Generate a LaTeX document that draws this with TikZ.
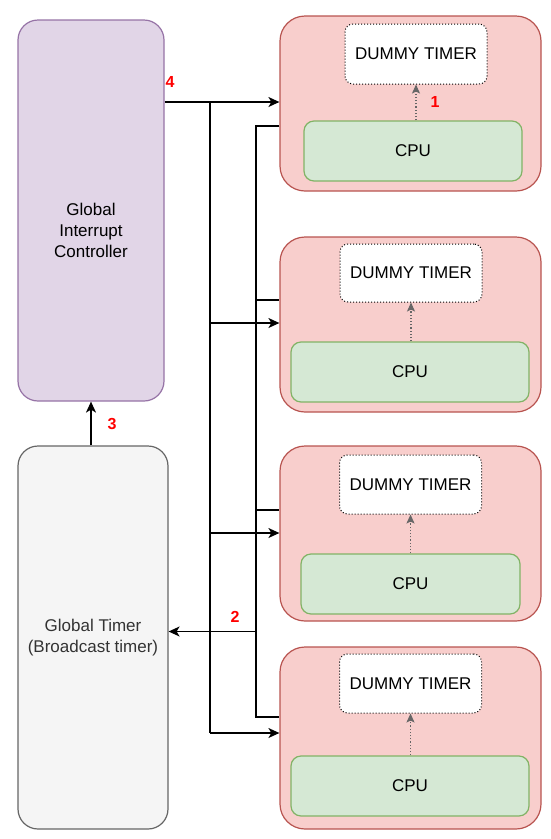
\documentclass[tikz,border=0pt]{standalone}
\usepackage{fontspec}
\setmainfont{Liberation Sans}
\usetikzlibrary{arrows.meta}
\definecolor{gicfill}{HTML}{E1D5E7}
\definecolor{gicline}{HTML}{9673A6}
\definecolor{tmrfill}{HTML}{F5F5F5}
\definecolor{tmrline}{HTML}{666666}
\definecolor{tmrtext}{HTML}{333333}
\definecolor{corefill}{HTML}{F8CECC}
\definecolor{coreline}{HTML}{B85450}
\definecolor{cpufill}{HTML}{D5E8D4}
\definecolor{cpuline}{HTML}{82B366}
\tikzset{every node/.style={font=\fontsize{17}{21}\selectfont, align=center, inner sep=0pt},
 gicbox/.style={draw=gicline, fill=gicfill, rounded corners=20pt, line width=1.2pt,
   minimum width=146pt, minimum height=381pt},
 tmrbox/.style={draw=tmrline, fill=tmrfill, text=tmrtext, rounded corners=20pt, line width=1.2pt,
   minimum width=150pt, minimum height=383pt},
 corebox/.style={draw=coreline, fill=corefill, rounded corners=25pt, line width=1.2pt,
   minimum width=261pt, minimum height=175pt},
 dummybox/.style={draw=black, fill=white, dotted, rounded corners=8pt, line width=1pt,
   minimum width=142pt, minimum height=59pt},
 cpubox/.style={draw=cpuline, fill=cpufill, rounded corners=10pt, line width=1.2pt,
   minimum height=60pt},
 wire/.style={draw=black, line width=1.4pt},
 arr/.style={wire, -{Stealth[length=11pt,width=10pt,inset=3pt]}},
 tick/.style={draw=black!60, dotted, line width=1.2pt, -{Stealth[length=9pt,width=8pt,inset=2pt]}},
 step num/.style={text=red, font=\fontsize{16}{18}\selectfont\bfseries},
 }

\begin{document}
\begin{tikzpicture}[x=1pt, y=-1pt]
    \useasboundingbox (0,0) rectangle (551,839);
    % left side
    \node[gicbox] (gic) at (91, 210.5) {};
    \node (gictext) at (91, 230) {Global\\Interrupt\\Controller};
    \node[tmrbox] (gtimer) at (93, 637.5) {};
    \node[text=tmrtext] (gtimertext) at (93, 638) {Global Timer\\(Broadcast timer)};
    % cores
    \node[corebox] (core1) at (410.5, 103.5) {};
    \node[corebox] (core2) at (410.5, 324.5) {};
    \node[corebox] (core3) at (410.5, 533.5) {};
    \node[corebox, minimum height=182pt] (core4) at (410.5, 738) {};
    \node[dummybox, minimum height=60pt] (dummy1) at (416, 54) {DUMMY TIMER};
    \node[dummybox, minimum height=58pt] (dummy2) at (411, 273) {DUMMY TIMER};
    \node[dummybox] (dummy3) at (410.5, 484.5) {DUMMY TIMER};
    \node[dummybox] (dummy4) at (410.5, 683.5) {DUMMY TIMER};
    \node[cpubox, minimum width=218pt] (cpu1) at (413, 151) {CPU};
    \node[cpubox, minimum width=238pt] (cpu2) at (410, 372) {CPU};
    \node[cpubox, minimum width=219pt] (cpu3) at (410.5, 584) {CPU};
    \node[cpubox, minimum width=238pt] (cpu4) at (410, 786) {CPU};
    \draw[tick] (dummy1.south |- cpu1.north) -- (dummy1.south);
    \draw[tick] (dummy2.south |- cpu2.north) -- (dummy2.south);
    \draw[tick] (dummy3.south |- cpu3.north) -- (dummy3.south);
    \draw[tick] (dummy4.south |- cpu4.north) -- (dummy4.south);
    % interrupt lines
    \coordinate (irq) at (210, 0);
    \coordinate (ack) at (256, 0);
    \coordinate (tmr) at ([yshift=6pt]gtimer.east);
    \draw[arr] ([yshift=1.5pt]gic.east |- core1.west) -- ([yshift=1.5pt]core1.west);
    \draw[wire] ([yshift=1.5pt]irq |- core1.west) -- ([yshift=5pt]irq |- core4.west);
    \draw[arr] ([yshift=1.5pt]irq |- core2.west) -- ([yshift=1.5pt]core2.west);
    \draw[arr] ([yshift=0.5pt]irq |- core3.west) -- ([yshift=0.5pt]core3.west);
    \draw[arr] ([yshift=5pt]irq |- core4.west) -- ([yshift=5pt]core4.west);
    \draw[wire] ([yshift=-22.5pt]core1.west) -| ([yshift=21pt]ack |- core4.west) -- ([yshift=21pt]core4.west);
    \draw[wire] ([yshift=24.5pt]ack |- core2.west) -- ([yshift=24.5pt]core2.west);
    \draw[wire] ([yshift=23.5pt]ack |- core3.west) -- ([yshift=23.5pt]core3.west);
    \draw[arr] (ack |- tmr) -- (tmr);
    \draw[arr] (gic.south |- gtimer.north) -- (gic.south);
    % steps
    \node[step num] (s1) at (435, 102) {1};
    \node[step num] (s2) at (235, 617) {2};
    \node[step num] (s3) at (112, 424) {3};
    \node[step num] (s4) at (170, 82) {4};
\end{tikzpicture}
\end{document}
